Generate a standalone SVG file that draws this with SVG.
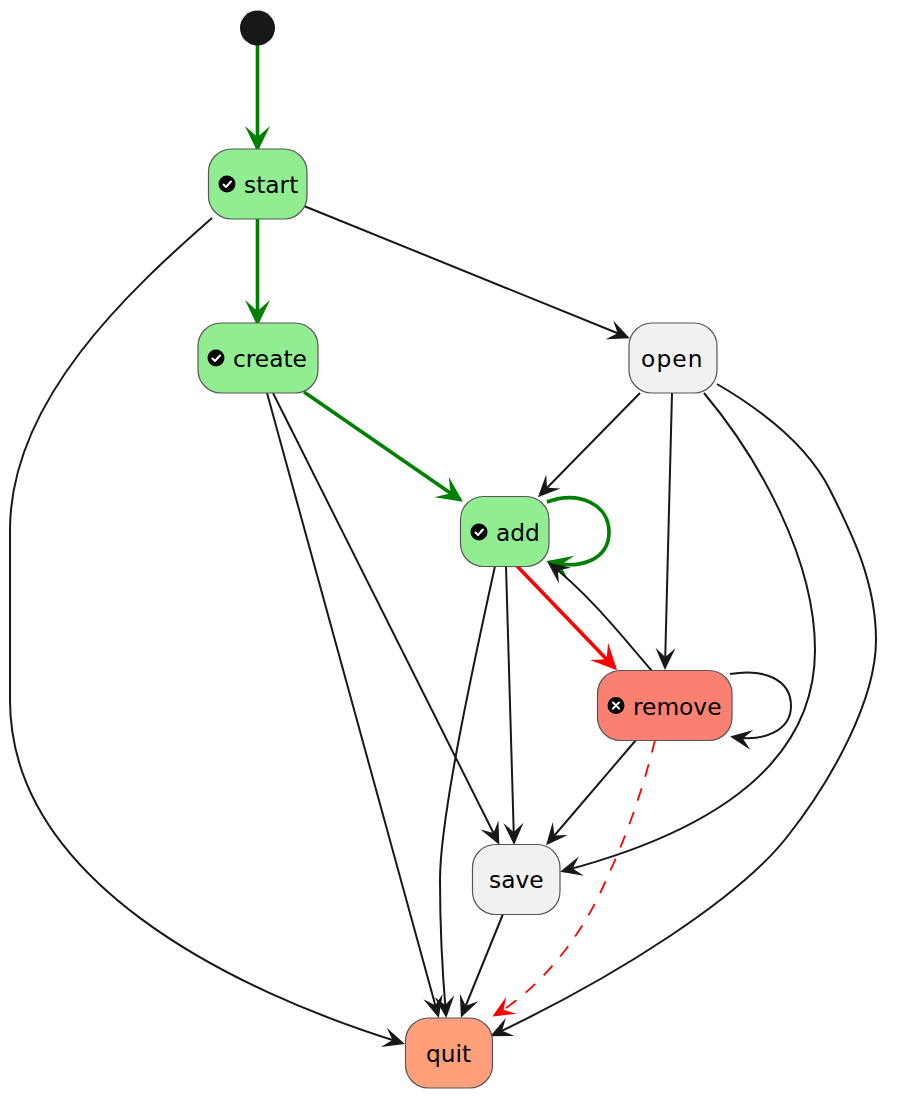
<svg xmlns="http://www.w3.org/2000/svg" width="903" height="1096" viewBox="0 0 903 1096">
<style>
.node{stroke:#555;stroke-width:1.2}
.t{font-family:"DejaVu Sans",sans-serif;font-size:23.3px;fill:#000}
.e{fill:none;stroke:#181818;stroke-width:2}
.g{fill:none;stroke:#008000;stroke-width:3.6}
.r{fill:none;stroke:#ff0000;stroke-width:3.6}
.d{fill:none;stroke:#ff0000;stroke-width:1.8;stroke-dasharray:13 12}
.ck{fill:none;stroke:#fff;stroke-width:2;stroke-linecap:round;stroke-linejoin:round}
</style>
<defs>
<marker id="ak" markerUnits="userSpaceOnUse" markerWidth="34" markerHeight="30" viewBox="-30 -15 34 30" refX="-3" refY="0" orient="auto"><path d="M0,0 L-22,-10 L-13,0 L-22,10 Z" fill="#181818"/></marker>
<marker id="ag" markerUnits="userSpaceOnUse" markerWidth="34" markerHeight="30" viewBox="-30 -15 34 30" refX="-3" refY="0" orient="auto"><path d="M0,0 L-26,-12.500 L-15,0 L-26,12.500 Z" fill="#008000"/></marker>
<marker id="ar" markerUnits="userSpaceOnUse" markerWidth="34" markerHeight="30" viewBox="-30 -15 34 30" refX="-3" refY="0" orient="auto"><path d="M0,0 L-26,-12.500 L-15,0 L-26,12.500 Z" fill="#ff0000"/></marker>
<marker id="ad" markerUnits="userSpaceOnUse" markerWidth="34" markerHeight="30" viewBox="-30 -15 34 30" refX="-3" refY="0" orient="auto"><path d="M0,0 L-22,-10 L-13,0 L-22,10 Z" fill="#ff0000"/></marker>
</defs>
<rect width="903" height="1096" fill="#fff"/>
<g id="connectors">
<path class="g" marker-end="url(#ag)" d="M257.5,45 L257.5,149"/>
<path class="g" marker-end="url(#ag)" d="M257.5,219 L257.5,323"/>
<path class="e" marker-end="url(#ak)" d="M304,206 L627,337"/>
<path class="e" marker-end="url(#ak)" d="M212,218 C130,290 10,400 10,530 L10,700 C10,880 230,990 402,1043"/>
<path class="g" marker-end="url(#ag)" d="M304,392 L460.500,500"/>
<path class="e" marker-end="url(#ak)" d="M273,393 L498,842"/>
<path class="e" marker-end="url(#ak)" d="M267,393 L438,1015"/>
<path class="e" marker-end="url(#ak)" d="M640,393 L540,495"/>
<path class="e" marker-end="url(#ak)" d="M672,393 L665,667"/>
<path class="e" marker-end="url(#ak)" d="M704,393 C760,460 815,560 815,650 C815,770 700,835 563,871"/>
<path class="e" marker-end="url(#ak)" d="M717,384 C770,415 810,450 830,490 C850,530 876,580 876,640 C876,700 832,780 787,837 C740,897 620,975 493,1035"/>
<path class="g" marker-end="url(#ag)" d="M547,502 C580,490 609,505 609,532 C609,560 580,570 549,562"/>
<path class="r" marker-end="url(#ar)" d="M517,566 L615,668"/>
<path class="e" marker-end="url(#ak)" d="M506,566 L514,842"/>
<path class="e" marker-end="url(#ak)" d="M495,566 C470,680 440,820 440,880 C440,930 443,980 446,1015"/>
<path class="e" marker-end="url(#ak)" d="M652,671 C625,640 590,595 550,564"/>
<path class="e" marker-end="url(#ak)" d="M730,674 C765,668 791,680 791,706 C791,730 765,742 733,737"/>
<path class="e" marker-end="url(#ak)" d="M636,740 L548,843"/>
<path class="d" marker-end="url(#ad)" d="M655,740 C643,790 625,840 606,880 C585,930 545,985 495,1015"/>
<path class="e" marker-end="url(#ak)" d="M503,914 L462,1015"/>
</g>
<g id="initial"><circle cx="257.5" cy="28" r="17.5" fill="#181818"/></g>
<g id="start"><rect class="node" x="208.5" y="149" width="98.5" height="70" rx="23" fill="#90EE90"/><circle cx="227" cy="184" r="8.500" fill="#000"/><path class="ck" d="M223.5,184.5 L226,187 L231,181.5"/><text class="t" x="244" y="193">start</text></g>
<g id="create"><rect class="node" x="198" y="323" width="120" height="70" rx="23" fill="#90EE90"/><circle cx="216" cy="358" r="8.500" fill="#000"/><path class="ck" d="M212.5,358.5 L215,361 L220,355.5"/><text class="t" x="233" y="367">create</text></g>
<g id="open"><rect class="node" x="629" y="323" width="88" height="70" rx="23" fill="#F1F1F1"/><text class="t" x="641" y="367" textLength="61.500">open</text></g>
<g id="add"><rect class="node" x="460.5" y="496.5" width="88.5" height="70" rx="23" fill="#90EE90"/><circle cx="479" cy="532" r="8.500" fill="#000"/><path class="ck" d="M475.5,532.5 L478,535 L483,529.5"/><text class="t" x="496" y="540.500">add</text></g>
<g id="remove"><rect class="node" x="597.500" y="670.500" width="134.500" height="70" rx="23" fill="#FA8072"/><circle cx="616" cy="705.500" r="8.500" fill="#000"/><path class="ck" d="M613,702.500 L619,708.500 M619,702.500 L613,708.500"/><text class="t" x="633" y="714.500">remove</text></g>
<g id="save"><rect class="node" x="472.500" y="844.500" width="87.500" height="70" rx="23" fill="#F1F1F1"/><text class="t" x="489" y="888">save</text></g>
<g id="quit"><rect class="node" x="405.500" y="1018" width="87" height="70" rx="23" fill="#FFA07A"/><text class="t" x="426" y="1062">quit</text></g>
</svg>
